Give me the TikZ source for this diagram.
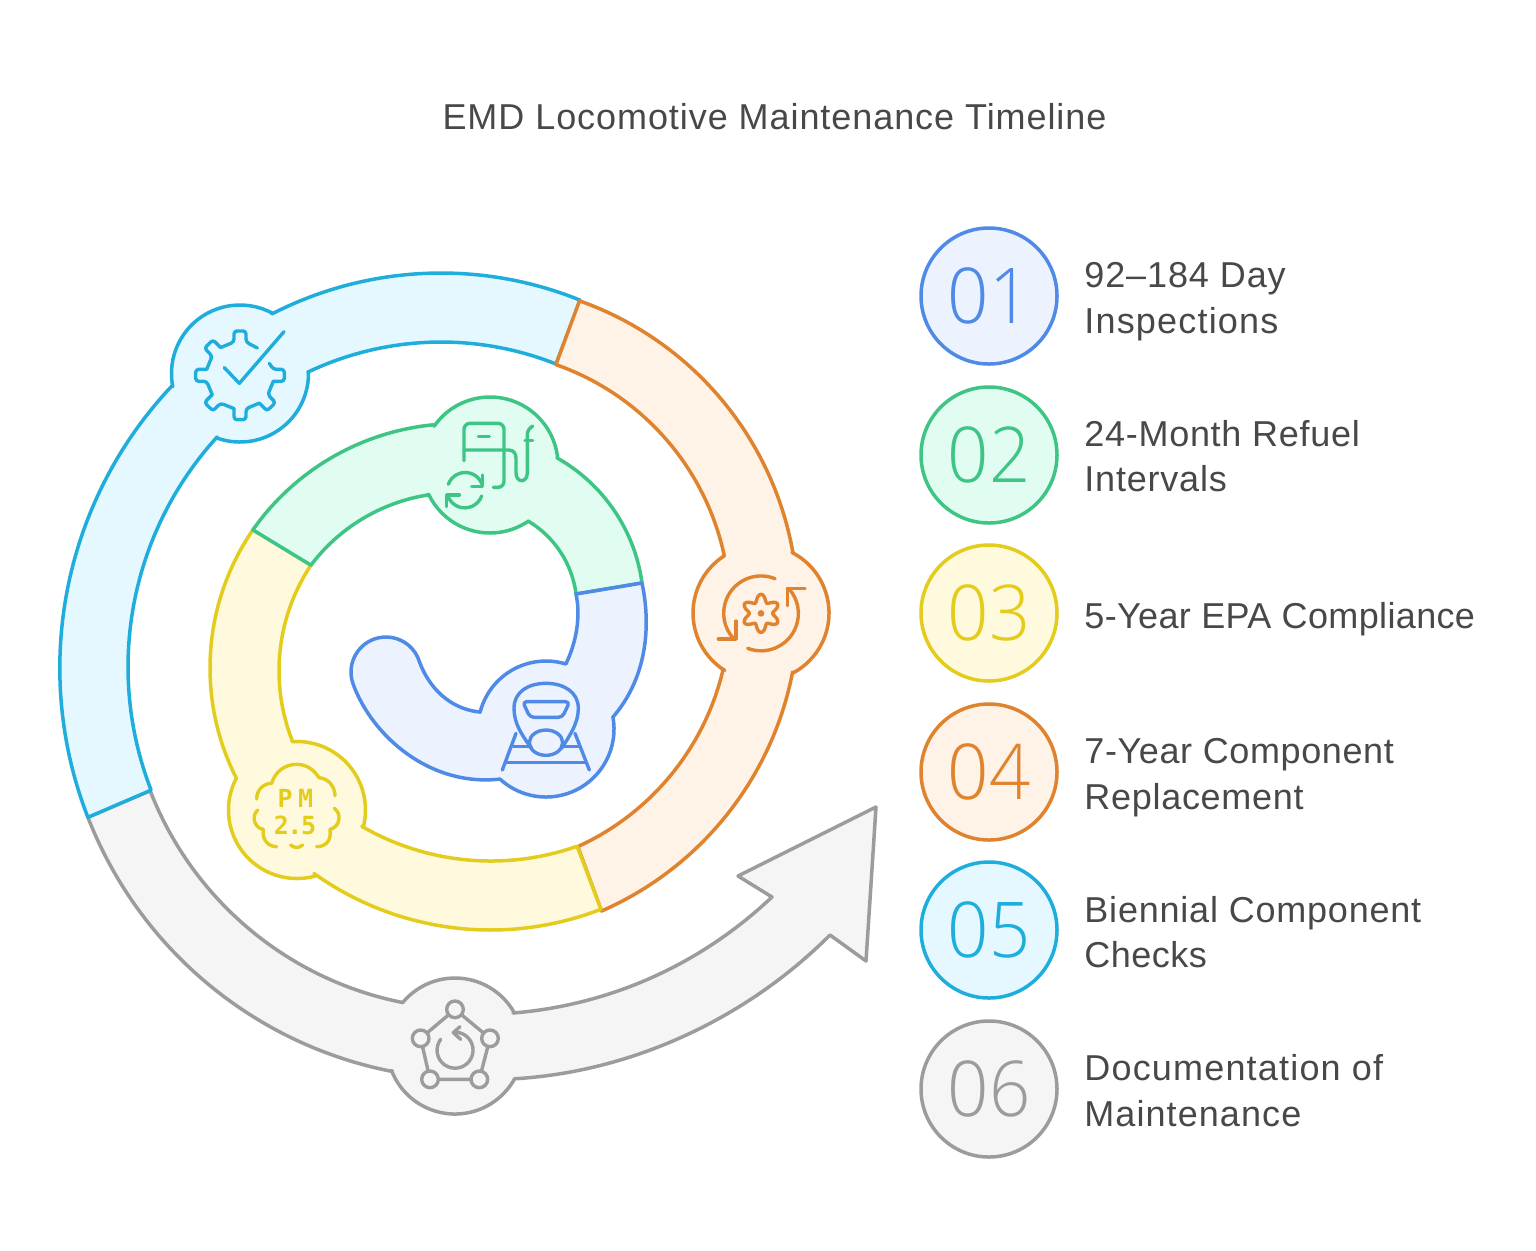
\documentclass[tikz,border=0pt]{standalone}
\usepackage{fontspec}
\setmainfont{Liberation Sans}
\newfontfamily\numf{Open Sans Light}[FakeStretch=0.94]
\newfontfamily\pmf{DejaVu Sans Mono}
\def\Arc#1#2#3#4#5{([shift={(#1,#2)}]#4:#3) arc[start angle=#4,end angle=#5,radius=#3]}
\newcommand{\ls}[2]{{\addfontfeature{LetterSpace=#1}\strut #2}}
\definecolor{cblue}{HTML}{1FAEDC}\definecolor{fblue}{HTML}{E6F8FF}
\definecolor{corg}{HTML}{E0832F}\definecolor{forg}{HTML}{FFF2E6}
\definecolor{cyel}{HTML}{E3CC1C}\definecolor{fyel}{HTML}{FFFADD}
\definecolor{cgrn}{HTML}{3EC586}\definecolor{fgrn}{HTML}{E1FDF1}
\definecolor{cper}{HTML}{4E8AE6}\definecolor{fper}{HTML}{ECF3FF}
\definecolor{cgry}{HTML}{9C9C9C}\definecolor{fgry}{HTML}{F5F5F5}
\definecolor{ctxt}{HTML}{484848}
\tikzset{
  band/.style={line width=1.75pt,line join=round,draw=#1},
  icon/.style={line width=1.7pt,line cap=round,line join=round,draw=#1},
  num/.style n args={2}{circle,draw=#1,fill=#2,line width=1.75pt,minimum size=68pt,inner sep=0pt,text=#1,font=\numf\fontsize{38.5}{38.5}\selectfont},
  lab/.style={anchor=west,align=left,inner sep=0pt,text=ctxt,font=\fontsize{18}{22.75}\selectfont},
}
\begin{document}
\begin{tikzpicture}[x=0.5pt,y=-0.5pt]
\useasboundingbox (0,0) rectangle (1536,1250);
\fill[white] (0,0) rectangle (1536,1250);
\node[text=ctxt,font=\fontsize{18}{22}\selectfont] (title) at (774.5,121) {\ls{2.6}{EMD Locomotive Maintenance Timeline}};

% gray arrow
\path[band=cgry,fill=fgry] \Arc{470.8}{668}{411}{158.7}{101}
  -- \Arc{455}{1046}{68}{159}{28.8}
  .. controls (630,1072) and (745,1020) .. (830,935) -- (866,961) -- (876,807) -- (738,876) -- (772,897)
  .. controls (700,965) and (610,1005) .. (513,1013)
  -- \Arc{455}{1046}{68}{330.4}{219.6}
  -- \Arc{469}{667}{342}{101.1}{158.8} -- cycle;
% cyan
\path[band=cblue,fill=fblue] \Arc{470.8}{668}{411}{158.7}{223.3}
  -- \Arc{240}{373.5}{68.5}{169}{298.5}
  -- \Arc{441}{643}{370}{242.8}{292.1}
  -- \Arc{441.2}{652.7}{310.7}{291.7}{244.6}
  -- \Arc{240}{373.5}{68.5}{-1}{110}
  -- \Arc{469}{666.8}{341}{222.4}{158.8} -- cycle;
% orange
\path[band=corg,fill=forg] \Arc{470}{610}{328}{-70.5}{-10.2}
  -- \Arc{761}{613}{68}{-62.7}{61.5}
  -- \Arc{470}{610}{328.5}{10.9}{66.4}
  -- \Arc{470}{610}{260}{65.5}{13.2}
  -- \Arc{761}{613}{68}{122.3}{236.3}
  -- \Arc{470}{610}{260}{-12}{-70.7} -- cycle;
% yellow
\path[band=cyel,fill=fyel] \Arc{454}{668}{244}{214.5}{153.3}
  -- \Arc{297}{810}{68.5}{207.7}{74}
  -- \Arc{490.5}{626}{304}{125.5}{68.7}
  -- \Arc{491}{603}{258}{70.5}{120}
  -- \Arc{297}{810}{68.5}{13}{-94}
  -- \Arc{469.7}{670.8}{190.7}{158.7}{213.7} -- cycle;
% green
\path[band=cgrn,fill=fgrn] \Arc{457.4}{673.6}{250}{215.1}{264.4}
  -- \Arc{490}{465}{68}{215}{354}
  -- \Arc{473.6}{606}{170}{-60.6}{-7.8}
  -- \Arc{476.9}{606.9}{100}{-7.4}{-59.3}
  -- \Arc{490}{465}{68}{55.8}{154.5}
  -- \Arc{456.3}{674.7}{182}{260.7}{217} -- cycle;
% periwinkle
\path[band=cper,fill=fper] (642,583) .. controls (652,630) and (645,680) .. (613,717)
  -- \Arc{546}{729}{68}{-10}{132.6}
  .. controls (430,787) and (372,736) .. (353.1,684)
  -- \Arc{386}{672}{35}{160}{343.6}
  .. controls (432,695) and (457,710) .. (480,712)
  -- \Arc{546}{729}{68}{194.4}{287}
  .. controls (576,643) and (581,617) .. (576,594) -- cycle;

% gear-check icon
\begin{scope}[shift={(160,290)},scale=1/3]
 \begin{scope}[shift={(240,256)}]
 \foreach \a in {45,90,135,180,225}
  \draw[icon=cblue,rotate=\a,rounded corners=1.5pt] (18,-100) -- (18,-133) -- (-18,-133) -- (-18,-100) -- (-58,-83.4);
 \draw[icon=cblue,rounded corners=1.5pt] (52,-82) -- (18,-100) -- (18,-133) -- (-18,-133) -- (-18,-100) -- (-58,-83.4);
 \draw[icon=cblue,rotate=270,rounded corners=1.5pt] (18,-100) -- (18,-133) -- (-18,-133) -- (-18,-100) -- (-36,-88);
 \end{scope}
 \draw[icon=cblue] (193,233) -- (238,280) -- (372,125);
\end{scope}

% fuel icon
\begin{scope}[shift={(410,390)},scale=1/3]
 \draw[icon=cgrn,rounded corners=3pt] (162,212) -- (162,100) -- (282,100) -- (282,292) -- (250,292);
 \draw[icon=cgrn] (162,180) -- (296,180) .. controls (310,180) and (318,190) .. (318,204) -- (318,248)
   .. controls (318,280) and (352,280) .. (352,248) -- (352,135) .. controls (352,122) and (358,115) .. (368,108);
 \draw[icon=cgrn] (345,152) -- (368,152);
 \draw[icon=cgrn] (205,140) -- (238,140);
 \draw[icon=cgrn] (115,283) arc[start angle=200,end angle=340,radius=54];
 \draw[icon=cgrn] (218,255) -- (218,290) -- (185,290);
 \draw[icon=cgrn] (215,318) arc[start angle=20,end angle=160,radius=54];
 \draw[icon=cgrn] (110,350) -- (110,315) -- (148,315);
\end{scope}

% orange icon
\begin{scope}[shift={(680,540)},scale=1/3]
 \draw[icon=corg] (285,116) arc[start angle=-68,end angle=-222,radius=112] -- (168,297);
 \draw[icon=corg] (168,243) -- (168,297) -- (115,297);
 \draw[icon=corg] (203,325) arc[start angle=111,end angle=-41,radius=112] -- (322,145);
 \draw[icon=corg] (322,197) -- (322,145) -- (375,145);
 \draw[icon=corg,smooth,samples=120,domain=0:360] plot ({243+(46-11*cos(6*\x))*cos(\x)},{220+(46-11*cos(6*\x))*sin(\x)}) -- cycle;
 \fill[corg] (243,220) circle[radius=10];
\end{scope}

% train icon
\begin{scope}[shift={(340,620)},scale=1/3]
 \draw[icon=cper] (575,385) .. controls (545,345) and (522,310) .. (522,265) .. controls (522,215) and (565,190) .. (618,190)
   .. controls (670,190) and (715,215) .. (715,265) .. controls (715,310) and (690,345) .. (665,385);
 \draw[icon=cper,rounded corners=2pt] (548,245) -- (689,245) -- (667,292) -- (570,292) -- cycle;
 \draw[icon=cper] (618,368) ellipse[x radius=50,y radius=38];
 \draw[icon=cper] (487,450) -- (528,340);
 \draw[icon=cper] (748,450) -- (705,340);
 \draw[icon=cper] (498,428) -- (738,428);
 \draw[icon=cper] (520,380) -- (565,380);
 \draw[icon=cper] (670,380) -- (718,380);
\end{scope}

% PM2.5 icon
\begin{scope}[shift={(220,730)},scale=1/3]
 \draw[icon=cyel] (110,207) .. controls (110,180) and (130,160) .. (155,160) .. controls (165,125) and (195,103) .. (230,103)
   .. controls (265,103) and (285,125) .. (297,143) .. controls (325,145) and (345,170) .. (345,197);
 \draw[icon=cyel] (113,240) .. controls (92,260) and (105,295) .. (130,298) .. controls (125,335) and (150,350) .. (170,350);
 \draw[icon=cyel] (212,345) .. controls (225,355) and (235,355) .. (248,345);
 \draw[icon=cyel] (290,350) .. controls (315,350) and (335,335) .. (330,298) .. controls (362,290) and (365,250) .. (343,235);
 \node[text=cyel,inner sep=0pt,font=\pmf\bfseries\fontsize{12.5}{14}\selectfont] (pm) at (226,205) {\addfontfeature{LetterSpace=22}PM};
 \node[text=cyel,inner sep=0pt,font=\pmf\bfseries\fontsize{12.5}{14}\selectfont] (pmval) at (225,285) {\addfontfeature{LetterSpace=-6}2.5};
\end{scope}

% gray icon
\begin{scope}[shift={(380,970)},scale=1/3]
 \draw[icon=cgry] (225,118) -- (330,205) -- (298,328) -- (150,328) -- (122,205) -- cycle;
 \foreach \p in {(225,118),(330,205),(298,328),(150,328),(122,205)}
   \draw[icon=cgry,fill=fgry] \p circle[radius=25];
 \draw[icon=cgry] (182,208) arc[start angle=217,end angle=-90,radius=54];
 \draw[icon=cgry] (240,170) -- (220,188) -- (242,208);
\end{scope}

% legend
\node[num={cper}{fper}] (n1) at (989,296) {01};
\node[num={cgrn}{fgrn}] (n2) at (989,455) {02};
\node[num={cyel}{fyel}] (n3) at (989,613) {03};
\node[num={corg}{forg}] (n4) at (989,772) {04};
\node[num={cblue}{fblue}] (n5) at (989,930) {05};
\node[num={cgry}{fgry}] (n6) at (989,1089) {06};
\node[lab] (l1) at (1084,301.5) {\ls{2.5}{92–184 Day}\\\ls{3.3}{Inspections}};
\node[lab] (l2) at (1084,460) {\ls{2}{24-Month Refuel}\\\ls{2.2}{Intervals}};
\node[lab] (l3) at (1084,619) {\ls{1}{5-Year EPA Compliance}};
\node[lab] (l4) at (1084,777.5) {\ls{1.7}{7-Year Component}\\\ls{2}{Replacement}};
\node[lab] (l5) at (1084,936) {\ls{2.2}{Biennial Component}\\\ls{1.4}{Checks}};
\node[lab] (l6) at (1084,1094.5) {\ls{3.3}{Documentation of}\\\ls{3}{Maintenance}};
\end{tikzpicture}
\end{document}
